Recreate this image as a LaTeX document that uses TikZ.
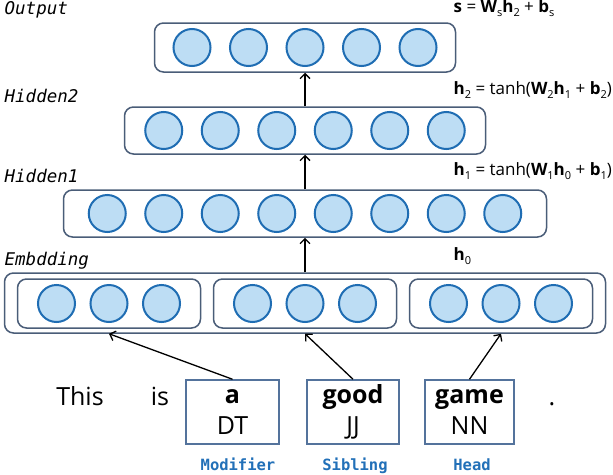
\documentclass[tikz,border=0pt]{standalone}
\usepackage{fontspec}
\usetikzlibrary{arrows.meta}
\setmainfont{Open Sans}
\setmonofont{DejaVu Sans Mono}
\definecolor{unitfill}{HTML}{BDDDF4}
\definecolor{unitline}{HTML}{1F6DB3}
\definecolor{layerline}{HTML}{4A5D78}
\definecolor{wordline}{HTML}{54739C}
\definecolor{rolecol}{HTML}{2270B8}
\tikzset{nnunit/.style={circle,draw=unitline,fill=unitfill,line width=2pt,minimum size=37pt,inner sep=0pt},
         nnlayer/.style={draw=layerline,rounded corners=9pt,line width=1.5pt,inner sep=0pt},
         nnbox/.style={draw=wordline,line width=1.5pt,inner sep=0pt,minimum height=64pt,align=center,font=\fontsize{25}{31}\selectfont},
         nnlab/.style={font=\fontsize{17.5}{17.5}\ttfamily\itshape,anchor=base west,inner sep=0pt},
         nneq/.style={font=\fontsize{17}{17}\selectfont,anchor=base west,inner sep=0pt},
         nnword/.style={font=\fontsize{25}{25}\selectfont,anchor=base,inner sep=0pt},
         nnrole/.style={font=\fontsize{15.5}{15.5}\ttfamily\bfseries,text=rolecol,anchor=base,inner sep=0pt}}
\newcommand{\bv}[1]{\textbf{#1}}
\newcommand{\nsub}[1]{\raisebox{-4pt}{\fontsize{11}{11}\selectfont #1}}

\begin{document}
\begin{tikzpicture}[x=1pt,y=-1pt,>={Straight Barb[length=5pt,width=10pt]},line width=1.3pt]
    \useasboundingbox (0,0) rectangle (613,474);
    \node[nnlayer,minimum width=301pt,minimum height=49pt] (outl) at (305,47.5) {};
    \node[nnlayer,minimum width=361pt,minimum height=47pt] (hidb) at (305,130.5) {};
    \node[nnlayer,minimum width=483pt,minimum height=47pt] (hida) at (305,213.5) {};
    \node[nnlayer,minimum width=601pt,minimum height=60pt] (emb) at (305,303) {};
    \foreach \i in {1,...,5} \node[nnunit] (o\i) at ({305+56.5*(\i-3)},47.5) {};
    \foreach \i in {1,...,6} \node[nnunit] (b\i) at ({305+56.5*(\i-3.5)},130.5) {};
    \foreach \i in {1,...,8} \node[nnunit] (a\i) at ({305+56.5*(\i-4.5)},213.5) {};
    \foreach \g/\c in {1/109,2/305,3/501}
      {\node[nnlayer,minimum width=183pt,minimum height=49pt] (g\g) at (\c,303.5) {};
       \foreach \i in {1,2,3} \node[nnunit] (e\g\i) at ({\c+52.5*(\i-2)},303.5) {};}
    \draw[->] (hidb.north) -- (outl.south); \draw[->] (hida.north) -- (hidb.south);
    \draw[->] (emb.north) -- (hida.south);
    \node[nnlab] (lout) at (4,14) {Output};
    \node[nnlab] (lhb) at (4,102) {Hidden2};
    \node[nnlab] (lha) at (4,182) {Hidden1};
    \node[nnlab] (lemb) at (4,265) {Embdding};
    \node[nneq] (eqs) at (453,12) {\bv{s} = \bv{W}\nsub{s}\bv{h}\nsub{2} + \bv{b}\nsub{s}};
    \node[nneq] (eqb) at (453,94) {\bv{h}\nsub{2} = tanh(\bv{W}\nsub{2}\bv{h}\nsub{1} + \bv{b}\nsub{2})};
    \node[nneq] (eqa) at (453,175) {\bv{h}\nsub{1} = tanh(\bv{W}\nsub{1}\bv{h}\nsub{0} + \bv{b}\nsub{1})};
    \node[nneq] (eqe) at (453,260) {\bv{h}\nsub{0}};
    \node[nnword] (this) at (80,405) {This};
    \node[nnword] (is) at (160,405) {is};
    \node[nnword] (dot) at (552,405) {.};
    \node[nnbox,minimum width=93pt] (wa) at (232.5,412) {\bv{a}\\DT};
    \node[nnbox,minimum width=92pt] (wgood) at (353,412) {\bv{good}\\JJ};
    \node[nnbox,minimum width=89pt] (wgame) at (469.5,412) {\bv{game}\\NN};
    \node[nnrole] (rmod) at (238,470) {Modifier};
    \node[nnrole] (rsib) at (355,470) {Sibling};
    \node[nnrole] (rhead) at (472,470) {Head};
    \draw[->] (wa.north) -- (e12 |- emb.south);
    \draw[->] (wgood.north) -- (e22 |- emb.south);
    \draw[->] (wgame.north) -- (e32 |- emb.south);
  \end{tikzpicture}
\end{document}
